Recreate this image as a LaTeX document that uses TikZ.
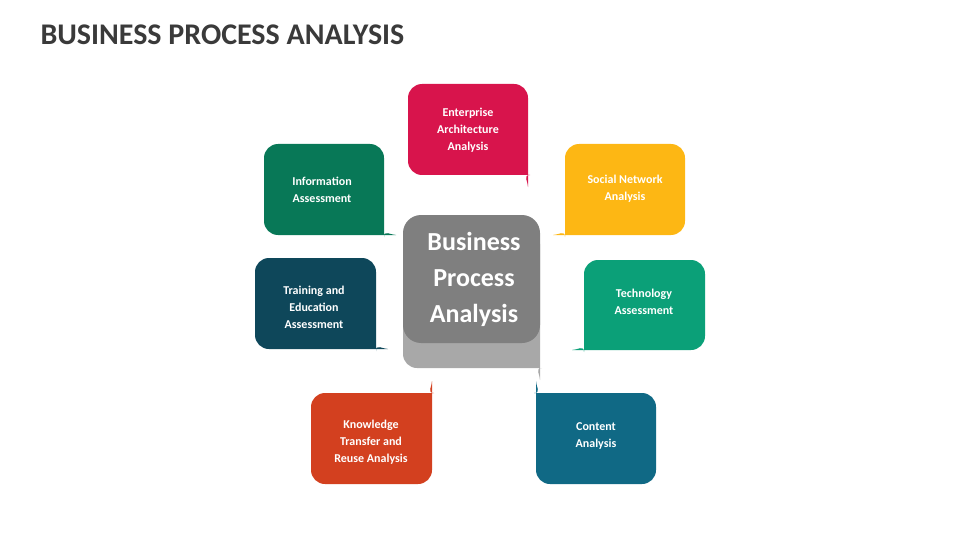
\documentclass[tikz,border=0pt]{standalone}
\usepackage{fontspec}
\setmainfont{Carlito}
\definecolor{cRed}{HTML}{D8144C}
\definecolor{cInfo}{HTML}{087857}
\definecolor{cSoc}{HTML}{FDB714}
\definecolor{cTech}{HTML}{0BA078}
\definecolor{cTrain}{HTML}{0E475A}
\definecolor{cKnow}{HTML}{D3401F}
\definecolor{cCont}{HTML}{106985}
\definecolor{cGray}{HTML}{7F7F7F}
\definecolor{cShad}{HTML}{A8A8A8}
\definecolor{cTitle}{HTML}{3A3A3A}
\newcommand{\bubBRR}[5]{\fill[#5,rounded corners=14] ({#3+12},#4) -- (#1,#4) -- (#1,#2) -- (#3,#2) -- (#3,{#4-12}) [sharp corners] .. controls (#3,{#4-5.4}) and ({#3+6.6},#4) .. cycle;}
\newcommand{\bubBLL}[5]{\fill[#5,rounded corners=14] ({#1-12},#4) -- (#3,#4) -- (#3,#2) -- (#1,#2) -- (#1,{#4-12}) [sharp corners] .. controls (#1,{#4-5.4}) and ({#1-6.6},#4) .. cycle;}
\newcommand{\bubBRD}[5]{\fill[#5,rounded corners=14] (#3,{#4+12}) -- (#3,#2) -- (#1,#2) -- (#1,#4) -- ({#3-12},#4) [sharp corners] .. controls ({#3-5.4},#4) and (#3,{#4+6.6}) .. cycle;}
\newcommand{\bubTRU}[5]{\fill[#5,rounded corners=14] (#3,{#2-12}) -- (#3,#4) -- (#1,#4) -- (#1,#2) -- ({#3-12},#2) [sharp corners] .. controls ({#3-5.4},#2) and (#3,{#2-6.6}) .. cycle;}
\newcommand{\bubTLU}[5]{\fill[#5,rounded corners=14] (#1,{#2-12}) -- (#1,#4) -- (#3,#4) -- (#3,#2) -- ({#1+12},#2) [sharp corners] .. controls ({#1+5.4},#2) and (#1,{#2-6.6}) .. cycle;}
\begin{document}
\begin{tikzpicture}[x=1pt,y=-1pt,
  lbl/.style={text=white,font=\bfseries\fontsize{12}{17}\selectfont,align=center},
  ttl/.style={text=cTitle,font=\bfseries\fontsize{30}{36}\selectfont,anchor=west}]
\useasboundingbox (0,0) rectangle (960,540);
\node[ttl] (title) at (37,35) {BUSINESS PROCESS ANALYSIS};
\bubBRD{408}{84}{528}{175}{cRed}
\bubBRR{264}{144}{384}{235}{cInfo}
\bubBLL{565}{144}{685}{235}{cSoc}
\bubBLL{584}{260}{705}{350}{cTech}
\bubBRR{255}{258}{376}{349}{cTrain}
\bubTRU{311}{393}{432}{484}{cKnow}
\bubTLU{536}{393}{656}{484}{cCont}
\bubBRD{403}{230}{540}{368}{cShad}
\fill[cGray,rounded corners=18] (403,215) rectangle (540,343);
\node[lbl] (ent) at (468,130) {Enterprise\\Architecture\\Analysis};
\node[lbl] (inf) at (322,190) {Information\\Assessment};
\node[lbl] (soc) at (625,189) {Social Network\\Analysis};
\node[lbl] (tec) at (644,302) {Technology\\Assessment};
\node[lbl] (tra) at (314,307) {Training and\\Education\\Assessment};
\node[lbl] (kno) at (371,442) {Knowledge\\Transfer and\\Reuse Analysis};
\node[lbl] (con) at (596,436) {Content\\Analysis};
\node[text=white,font=\bfseries\fontsize{26}{36}\selectfont,align=center] (bpa) at (474,279) {Business\\Process\\Analysis};
\end{tikzpicture}
\end{document}
